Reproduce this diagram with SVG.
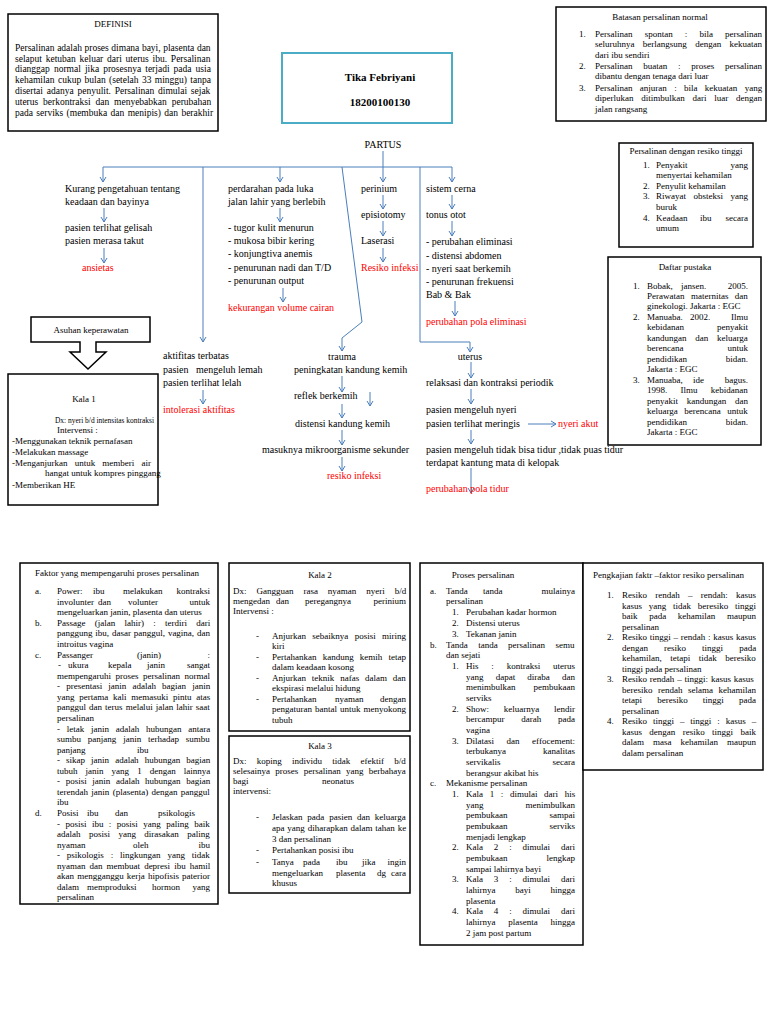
<svg xmlns="http://www.w3.org/2000/svg" width="768" height="1024" viewBox="0 0 768 1024">
<style>
text{font-family:"Liberation Serif","Times New Roman",serif;font-size:10px;fill:#000}
.s{font-size:9px}
.d{font-size:9.5px}
.r{fill:#ff0000}
.c{text-anchor:middle}
.e{text-anchor:end}
.b{font-weight:bold;font-size:11px}
.box{fill:#fff;stroke:#000;stroke-width:1.5}
.conn{stroke:#4a7ebb;stroke-width:1;fill:none}
.arr{stroke:#4a7ebb;stroke-width:1;fill:none;marker-end:url(#ah)}
</style>
<defs>
<marker id="ah" markerWidth="8" markerHeight="8" refX="6" refY="4" orient="auto" markerUnits="userSpaceOnUse">
<path d="M1,1 L6,4 L1,7" fill="none" stroke="#4a7ebb" stroke-width="1"/>
</marker>
<clipPath id="defclip"><rect x="8" y="14" width="210" height="117"/></clipPath>
</defs>
<rect width="768" height="1024" fill="#fff"/>

<g id="connectors">
<line class="arr" x1="383" y1="151" x2="383" y2="182"/>
<line class="conn" x1="103" y1="167" x2="452" y2="167"/>
<line class="arr" x1="103" y1="167" x2="103" y2="182"/>
<line class="arr" x1="280" y1="167" x2="280" y2="182"/>
<line class="arr" x1="452" y1="167" x2="452" y2="182"/>
<line class="arr" x1="203" y1="167" x2="203" y2="342"/>
<polyline class="arr" points="342,167 362,322 342,338 342,351"/>
<polyline class="arr" points="420,167 420,342 470,342 470,352"/>
<line class="arr" x1="104" y1="208" x2="104" y2="222"/>
<line class="arr" x1="104" y1="248" x2="104" y2="263"/>
<line class="arr" x1="280" y1="208" x2="280" y2="222"/>
<line class="arr" x1="283" y1="288" x2="283" y2="302"/>
<line class="arr" x1="383" y1="195" x2="383" y2="209"/>
<line class="arr" x1="383" y1="221" x2="383" y2="236"/>
<line class="arr" x1="383" y1="248" x2="383" y2="262"/>
<line class="arr" x1="452" y1="195" x2="452" y2="209"/>
<line class="arr" x1="452" y1="221" x2="452" y2="236"/>
<line class="arr" x1="455" y1="301" x2="455" y2="316"/>
<line class="arr" x1="203" y1="390" x2="203" y2="404"/>
<line class="arr" x1="342" y1="376" x2="342" y2="392"/>
<line class="arr" x1="370" y1="392" x2="370" y2="406"/>
<line class="arr" x1="342" y1="404" x2="342" y2="418"/>
<line class="arr" x1="342" y1="430" x2="342" y2="445"/>
<line class="arr" x1="342" y1="457" x2="342" y2="471"/>
<line class="arr" x1="471" y1="362" x2="471" y2="378"/>
<line class="arr" x1="471" y1="389" x2="471" y2="404"/>
<line class="arr" x1="528" y1="424" x2="556" y2="424"/>
<line class="arr" x1="471" y1="430" x2="471" y2="444"/>
<line class="arr" x1="471" y1="468" x2="471" y2="493"/>
</g>

<g id="definisi">
<rect class="box" x="8" y="14" width="210" height="117" stroke-width="2"/>
<text class="s c" x="113" y="27">DEFINISI</text>
<g clip-path="url(#defclip)">
<text class="d" x="15" y="51" style="word-spacing:0.2px">Persalinan adalah proses dimana bayi, plasenta dan</text>
<text class="d" x="15" y="62" style="word-spacing:1.4px">selaput ketuban keluar dari uterus ibu. Persalinan</text>
<text class="d" x="15" y="72" style="word-spacing:1.7px">dianggap normal jika prosesnya terjadi pada usia</text>
<text class="d" x="15" y="83" style="word-spacing:1px">kehamilan cukup bulan (setelah 33 minggu) tanpa</text>
<text class="d" x="15" y="94" style="word-spacing:1.4px">disertai adanya penyulit. Persalinan dimulai sejak</text>
<text class="d" x="15" y="105" style="word-spacing:2.5px">uterus berkontraksi dan menyebabkan perubahan</text>
<text class="d" x="15" y="116" style="word-spacing:1px">pada serviks (membuka dan menipis) dan berakhir</text>
</g>
</g>

<g id="nama">
<rect x="282" y="53" width="170" height="70" fill="#fff" stroke="#4bacc6" stroke-width="2"/>
<text class="b c" x="380" y="81">Tika Febriyani</text>
<text class="b c" x="380" y="106">18200100130</text>
</g>

<g id="batasan">
<rect class="box" x="556" y="7" width="210" height="114"/>
<text class="s c" x="660" y="20">Batasan persalinan normal</text>
<text class="s" x="579" y="37">1.</text>
<text class="s" x="595" y="37" style="word-spacing:9.9px">Persalinan spontan : bila persalinan</text>
<text class="s" x="595" y="47" style="word-spacing:6.1px">seluruhnya berlangsung dengan kekuatan</text>
<text class="s" x="595" y="58">dari ibu sendiri</text>
<text class="s" x="579" y="69">2.</text>
<text class="s" x="595" y="69" style="word-spacing:8.5px">Persalinan buatan : proses persalinan</text>
<text class="s" x="595" y="79">dibantu dengan tenaga dari luar</text>
<text class="s" x="579" y="91">3.</text>
<text class="s" x="595" y="91" style="word-spacing:5.1px">Persalinan anjuran : bila kekuatan yang</text>
<text class="s" x="595" y="101" style="word-spacing:5.5px">diperlukan ditimbulkan dari luar dengan</text>
<text class="s" x="595" y="112">jalan rangsang</text>
</g>

<g id="partus"><text class="c" x="383" y="148">PARTUS</text></g>

<g id="col1">
<text x="65" y="192">Kurang pengetahuan tentang</text>
<text x="65" y="205">keadaan dan bayinya</text>
<text x="65" y="231">pasien terlihat gelisah</text>
<text x="65" y="244">pasien merasa takut</text>
<text class="r" x="82" y="271">ansietas</text>
</g>
<g id="col2">
<text x="228" y="192">perdarahan pada luka</text>
<text x="228" y="205">jalan lahir yang berlebih</text>
<text x="228" y="231">- tugor kulit menurun</text>
<text x="228" y="244">- mukosa bibir kering</text>
<text x="228" y="257">- konjungtiva anemis</text>
<text x="228" y="271">- penurunan nadi dan  T/D</text>
<text x="228" y="284">- penurunan output</text>
<text class="r" x="228" y="311">kekurangan volume cairan</text>
</g>
<g id="col3">
<text x="361" y="192">perinium</text>
<text x="361" y="218">episiotomy</text>
<text x="361" y="244">Laserasi</text>
<text class="r" x="361" y="271">Resiko infeksi</text>
</g>
<g id="col4">
<text x="426" y="192">sistem cerna</text>
<text x="426" y="218">tonus otot</text>
<text x="426" y="245">- perubahan eliminasi</text>
<text x="426" y="259">- distensi abdomen</text>
<text x="426" y="272">- nyeri saat berkemih</text>
<text x="426" y="285">- penurunan frekuensi</text>
<text x="426" y="298">Bab &amp; Bak</text>
<text class="r" x="426" y="325">perubahan pola eliminasi</text>
</g>
<g id="col5">
<text x="163" y="359">aktifitas terbatas</text>
<text x="163" y="373" xml:space="preserve">pasien   mengeluh lemah</text>
<text x="163" y="386">pasien terlihat lelah</text>
<text class="r" x="163" y="413">intolerasi aktifitas</text>
</g>
<g id="col6">
<text class="c" x="342" y="360">trauma</text>
<text x="294" y="373">peningkatan kandung kemih</text>
<text x="294" y="399">reflek berkemih</text>
<text x="295" y="427">distensi kandung kemih</text>
<text x="262" y="453">masuknya mikroorganisme  sekunder</text>
<text class="r" x="327" y="479">resiko infeksi</text>
</g>
<g id="col7">
<text class="c" x="470" y="360">uterus</text>
<text x="426" y="386">relaksasi dan kontraksi periodik</text>
<text x="426" y="413">pasien mengeluh nyeri</text>
<text x="426" y="427">pasien terlihat meringis</text>
<text class="r" x="558" y="427">nyeri akut</text>
<text x="426" y="453">pasien mengeluh tidak bisa tidur ,tidak puas tidur</text>
<text x="426" y="466">terdapat kantung mata di kelopak</text>
<text class="r" x="426" y="492">perubahan pola tidur</text>
</g>

<g id="resiko-tinggi">
<rect class="box" x="619" y="143" width="134" height="104"/>
<text class="s c" x="686" y="154">Persalinan dengan resiko tinggi</text>
<text class="s" x="643" y="168">1.</text>
<text class="s" x="656" y="168">Penyakit</text><text class="s e" x="748" y="168">yang</text>
<text class="s" x="656" y="178">menyertai kehamilan</text>
<text class="s" x="643" y="189">2.</text>
<text class="s" x="656" y="189">Penyulit kehamilan</text>
<text class="s" x="643" y="199">3.</text>
<text class="s" x="656" y="199" style="word-spacing:5.2px">Riwayat obsteksi yang</text>
<text class="s" x="656" y="210">buruk</text>
<text class="s" x="643" y="221">4.</text>
<text class="s" x="656" y="221">Keadaan</text><text class="s" x="700" y="221">ibu</text><text class="s e" x="748" y="221">secara</text>
<text class="s" x="656" y="231">umum</text>
</g>

<g id="daftar-pustaka">
<rect class="box" x="608" y="257" width="153" height="188"/>
<text class="s c" x="685" y="270">Daftar pustaka</text>
<text class="s" x="633" y="289">1.</text>
<text class="s" x="647" y="289">Bobak,</text><text class="s" x="681" y="289">jansen.</text><text class="s e" x="748" y="289">2005.</text>
<text class="s" x="647" y="299" style="word-spacing:4.2px">Perawatan maternitas dan</text>
<text class="s" x="647" y="309">ginekologi. Jakarta : EGC</text>
<text class="s" x="633" y="320">2.</text>
<text class="s" x="647" y="320">Manuaba.</text><text class="s" x="690" y="320">2002.</text><text class="s e" x="748" y="320">Ilmu</text>
<text class="s" x="647" y="330">kebidanan</text><text class="s e" x="748" y="330">penyakit</text>
<text class="s" x="647" y="341" style="word-spacing:6.5px">kandungan dan keluarga</text>
<text class="s" x="647" y="351">berencana</text><text class="s e" x="748" y="351">untuk</text>
<text class="s" x="647" y="362">pendidikan</text><text class="s e" x="748" y="362">bidan.</text>
<text class="s" x="647" y="372">Jakarta : EGC</text>
<text class="s" x="633" y="383">3.</text>
<text class="s" x="647" y="383">Manuaba,</text><text class="s" x="693" y="383">ide</text><text class="s e" x="748" y="383">bagus.</text>
<text class="s" x="647" y="393" style="word-spacing:11px">1998. Ilmu kebidanan</text>
<text class="s" x="647" y="404" style="word-spacing:6.5px">penyakit kandungan dan</text>
<text class="s" x="647" y="414" style="word-spacing:4.2px">keluarga berencana untuk</text>
<text class="s" x="647" y="425">pendidikan</text><text class="s e" x="748" y="425">bidan.</text>
<text class="s" x="647" y="435">Jakarta : EGC</text>
</g>

<g id="asuhan">
<polygon points="31,317 150,317 150,342 96,342 96,352 106,352 88,369 70,352 80,352 80,342 31,342" fill="#fff" stroke="#000" stroke-width="1.5"/>
<text class="s c" x="91" y="333">Asuhan keperawatan</text>
</g>

<g id="kala1">
<rect class="box" x="8" y="374" width="150" height="131"/>
<text class="s c" x="84" y="402">Kala 1</text>
<text class="s" x="55" y="423" textLength="99" lengthAdjust="spacingAndGlyphs">Dx: nyeri b/d intensitas kontraksi</text>
<text class="s" x="57" y="433">Intervensi :</text>
<text class="s" x="12" y="444">-Menggunakan teknik pernafasan</text>
<text class="s" x="12" y="455">-Melakukan massage</text>
<text class="s" x="12" y="466" style="word-spacing:4.9px">-Menganjurkan untuk memberi air</text>
<text class="s" x="45" y="476">hangat untuk kompres pinggang</text>
<text class="s" x="12" y="488">-Memberikan HE</text>
</g>

<g id="faktor">
<rect class="box" x="20" y="563" width="198" height="341"/>
<text class="s c" x="117" y="576">Faktor yang mempengaruhi proses persalinan</text>
<text class="s" x="35" y="594">a.</text>
<text class="s" x="57" y="594">Power:</text><text class="s" x="93" y="594">ibu</text><text class="s" x="123" y="594">melakukan</text><text class="s e" x="210" y="594">kontraksi</text>
<text class="s" x="57" y="605">involunter</text><text class="s" x="98" y="605">dan</text><text class="s" x="128" y="605">volunter</text><text class="s e" x="210" y="605">untuk</text>
<text class="s" x="57" y="615">mengeluarkan janin, plasenta dan uterus</text>
<text class="s" x="35" y="626">b.</text>
<text class="s" x="57" y="626" style="word-spacing:7px">Passage (jalan lahir) : terdiri dari</text>
<text class="s" x="57" y="636" style="word-spacing:0.6px">panggung ibu, dasar panggul, vagina, dan</text>
<text class="s" x="57" y="647">introitus vagina</text>
<text class="s" x="35" y="658">c.</text>
<text class="s" x="57" y="658">Passanger</text><text class="s" x="137" y="658">(janin)</text><text class="s e" x="210" y="658">:</text>
<text class="s" x="58" y="668">-</text><text class="s" x="68" y="668">ukura</text><text class="s" x="108" y="668">kepala</text><text class="s" x="147" y="668">janin</text><text class="s e" x="210" y="668">sangat</text>
<text class="s" x="57" y="679" style="word-spacing:2.3px">mempengaruhi proses persalinan normal</text>
<text class="s" x="57" y="689" style="word-spacing:3.9px">- presentasi janin adalah bagian janin</text>
<text class="s" x="57" y="700" style="word-spacing:2.5px">yang pertama kali memasuki pintu atas</text>
<text class="s" x="57" y="710" style="word-spacing:0.8px">panggul dan terus melalui jalan lahir saat</text>
<text class="s" x="57" y="721">persalinan</text>
<text class="s" x="57" y="732" style="word-spacing:4.5px">- letak janin adalah hubungan antara</text>
<text class="s" x="57" y="742" style="word-spacing:4.6px">sumbu panjang janin terhadap sumbu</text>
<text class="s" x="57" y="753">panjang</text><text class="s" x="137" y="753">ibu</text>
<text class="s" x="57" y="763" style="word-spacing:3.8px">- sikap janin adalah hubungan bagian</text>
<text class="s" x="57" y="774" style="word-spacing:5.8px">tubuh janin yang 1 dengan lainnya</text>
<text class="s" x="57" y="784" style="word-spacing:3.4px">- posisi janin adalah hubungan bagian</text>
<text class="s" x="57" y="795" style="word-spacing:1.1px">terendah janin (plasenta) dengan panggul</text>
<text class="s" x="57" y="805">ibu</text>
<text class="s" x="35" y="816">d.</text>
<text class="s" x="57" y="816">Posisi</text><text class="s" x="87" y="816">ibu</text><text class="s" x="115" y="816">dan</text><text class="s" x="158" y="816">psikologis</text>
<text class="s" x="57" y="827" style="word-spacing:3.2px">- posisi ibu : posisi yang paling baik</text>
<text class="s" x="57" y="837" style="word-spacing:6.2px">adalah posisi yang dirasakan paling</text>
<text class="s" x="57" y="848">nyaman</text><text class="s" x="133" y="848">oleh</text><text class="s e" x="210" y="848">ibu</text>
<text class="s" x="57" y="858" style="word-spacing:4.6px">- psikologis : lingkungan yang tidak</text>
<text class="s" x="57" y="869" style="word-spacing:1.8px">nyaman dan membuat depresi ibu hamil</text>
<text class="s" x="57" y="879" style="word-spacing:0.9px">akan mengganggu kerja hipofisis paterior</text>
<text class="s" x="57" y="890">dalam</text><text class="s" x="87" y="890">memproduksi</text><text class="s" x="152" y="890">hormon</text><text class="s e" x="210" y="890">yang</text>
<text class="s" x="57" y="900">persalinan</text>
</g>

<g id="kala2">
<rect class="box" x="229" y="563" width="181" height="168"/>
<text class="s c" x="320" y="578">Kala 2</text>
<text class="s" x="233" y="594" style="word-spacing:7.7px">Dx: Gangguan rasa nyaman nyeri b/d</text>
<text class="s" x="233" y="604">mengedan</text><text class="s" x="276" y="604">dan</text><text class="s" x="305" y="604">peregangnya</text><text class="s e" x="406" y="604">perinium</text>
<text class="s" x="233" y="614">Intervensi :</text>
<text class="s" x="256" y="639">-</text>
<text class="s" x="272" y="639" style="word-spacing:4.1px">Anjurkan sebaiknya posisi miring</text>
<text class="s" x="272" y="649">kiri</text>
<text class="s" x="256" y="660">-</text>
<text class="s" x="272" y="660" style="word-spacing:3.9px">Pertahankan kandung kemih tetap</text>
<text class="s" x="272" y="670">dalam keadaan kosong</text>
<text class="s" x="256" y="681">-</text>
<text class="s" x="272" y="681" style="word-spacing:3.6px">Anjurkan teknik nafas dalam dan</text>
<text class="s" x="272" y="691">ekspirasi melalui hidung</text>
<text class="s" x="256" y="702">-</text>
<text class="s" x="272" y="702">Pertahankan</text><text class="s" x="335" y="702">nyaman</text><text class="s e" x="406" y="702">dengan</text>
<text class="s" x="272" y="712" style="word-spacing:0.8px">pengaturan bantal untuk menyokong</text>
<text class="s" x="272" y="723">tubuh</text>
</g>

<g id="kala3">
<rect class="box" x="229" y="736" width="181" height="157"/>
<text class="s c" x="320" y="749">Kala 3</text>
<text class="s" x="233" y="764" style="word-spacing:8px">Dx: koping individu tidak efektif b/d</text>
<text class="s" x="233" y="774" style="word-spacing:3.1px">selesainya proses persalinan yang berbahaya</text>
<text class="s" x="233" y="784">bagi</text><text class="s" x="322" y="784">neonatus</text>
<text class="s" x="233" y="794">intervensi:</text>
<text class="s" x="256" y="820">-</text>
<text class="s" x="272" y="820" style="word-spacing:2.6px">Jelaskan pada pasien dan keluarga</text>
<text class="s" x="272" y="831" style="word-spacing:0.6px">apa yang diharapkan dalam tahan ke</text>
<text class="s" x="272" y="842">3 dan persalinan</text>
<text class="s" x="256" y="853">-</text>
<text class="s" x="272" y="853">Pertahankan posisi ibu</text>
<text class="s" x="256" y="865">-</text>
<text class="s" x="272" y="865">Tanya</text><text class="s" x="303" y="865">pada</text><text class="s" x="336" y="865">ibu</text><text class="s" x="362" y="865">jika</text><text class="s e" x="406" y="865">ingin</text>
<text class="s" x="272" y="876">mengeluarkan</text><text class="s" x="336" y="876">plasenta</text><text class="s" x="377" y="876">dg</text><text class="s e" x="406" y="876">cara</text>
<text class="s" x="272" y="886">khusus</text>
</g>

<g id="proses">
<rect class="box" x="420" y="563" width="163" height="382"/>
<text class="s c" x="483" y="578">Proses persalinan</text>
<text class="s" x="430" y="594">a.</text>
<text class="s" x="446" y="594">Tanda</text><text class="s" x="483" y="594">tanda</text><text class="s e" x="575" y="594">mulainya</text>
<text class="s" x="446" y="604">persalinan</text>
<text class="s" x="452" y="615">1.</text><text class="s" x="466" y="615">Perubahan kadar hormon</text>
<text class="s" x="452" y="626">2.</text><text class="s" x="466" y="626">Distensi uterus</text>
<text class="s" x="452" y="637">3.</text><text class="s" x="466" y="637">Tekanan janin</text>
<text class="s" x="430" y="648">b.</text>
<text class="s" x="446" y="648" style="word-spacing:8.1px">Tanda tanda persalinan semu</text>
<text class="s" x="446" y="658">dan sejati</text>
<text class="s" x="452" y="669">1.</text>
<text class="s" x="466" y="669" style="word-spacing:10.6px">His : kontraksi uterus</text>
<text class="s" x="466" y="680" style="word-spacing:9.9px">yang dapat diraba dan</text>
<text class="s" x="466" y="690">menimbulkan</text><text class="s e" x="575" y="690">pembukaan</text>
<text class="s" x="466" y="701">serviks</text>
<text class="s" x="452" y="712">2.</text>
<text class="s" x="466" y="712" style="word-spacing:12.5px">Show: keluarnya lendir</text>
<text class="s" x="466" y="722" style="word-spacing:14.5px">bercampur darah pada</text>
<text class="s" x="466" y="733">vagina</text>
<text class="s" x="452" y="744">3.</text>
<text class="s" x="466" y="744" style="word-spacing:10.3px">Dilatasi dan effocement:</text>
<text class="s" x="466" y="754">terbukanya</text><text class="s e" x="575" y="754">kanalitas</text>
<text class="s" x="466" y="765">servikalis</text><text class="s e" x="575" y="765">secara</text>
<text class="s" x="466" y="776">berangsur akibat his</text>
<text class="s" x="430" y="786">c.</text>
<text class="s" x="446" y="786">Mekanisme persalinan</text>
<text class="s" x="452" y="797">1.</text>
<text class="s" x="466" y="797" style="word-spacing:4.4px">Kala 1 : dimulai dari his</text>
<text class="s" x="466" y="808">yang</text><text class="s e" x="575" y="808">menimbulkan</text>
<text class="s" x="466" y="818">pembukaan</text><text class="s e" x="575" y="818">sampai</text>
<text class="s" x="466" y="829">pembukaan</text><text class="s e" x="575" y="829">serviks</text>
<text class="s" x="466" y="840">menjadi lengkap</text>
<text class="s" x="452" y="850">2.</text>
<text class="s" x="466" y="850" style="word-spacing:8.6px">Kala 2 : dimulai dari</text>
<text class="s" x="466" y="861">pembukaan</text><text class="s e" x="575" y="861">lengkap</text>
<text class="s" x="466" y="872">sampai lahirnya bayi</text>
<text class="s" x="452" y="882">3.</text>
<text class="s" x="466" y="882" style="word-spacing:8.6px">Kala 3 : dimulai dari</text>
<text class="s" x="466" y="893" style="word-spacing:17.5px">lahirnya bayi hingga</text>
<text class="s" x="466" y="904">plasenta</text>
<text class="s" x="452" y="914">4.</text>
<text class="s" x="466" y="914" style="word-spacing:8.6px">Kala 4 : dimulai dari</text>
<text class="s" x="466" y="925" style="word-spacing:10.5px">lahirnya plasenta hingga</text>
<text class="s" x="466" y="936">2 jam post partum</text>
</g>

<g id="pengkajian">
<rect class="box" x="583" y="563" width="180" height="207"/>
<text class="s" x="593" y="578">Pengkajian faktr –faktor resiko persalinan</text>
<text class="s" x="607" y="598">1.</text>
<text class="s" x="622" y="598" style="word-spacing:6px">Resiko rendah – rendah: kasus</text>
<text class="s" x="622" y="609" style="word-spacing:4.5px">kasus yang tidak beresiko tinggi</text>
<text class="s" x="622" y="619" style="word-spacing:9.4px">baik pada kehamilan maupun</text>
<text class="s" x="622" y="630">persalinan</text>
<text class="s" x="607" y="640">2.</text>
<text class="s" x="622" y="640" style="word-spacing:0.5px">Resiko tinggi – rendah : kasus kasus</text>
<text class="s" x="622" y="651" style="word-spacing:13.8px">dengan resiko tinggi pada</text>
<text class="s" x="622" y="661" style="word-spacing:6.3px">kehamilan, tetapi tidak beresiko</text>
<text class="s" x="622" y="672">tinggi pada persalinan</text>
<text class="s" x="607" y="682">3.</text>
<text class="s" x="622" y="682" style="word-spacing:0.6px">Resiko rendah – tinggi: kasus kasus</text>
<text class="s" x="622" y="693" style="word-spacing:3.3px">beresiko rendah selama kehamilan</text>
<text class="s" x="622" y="703" style="word-spacing:12.9px">tetapi beresiko tinggi pada</text>
<text class="s" x="622" y="714">persalinan</text>
<text class="s" x="607" y="724">4.</text>
<text class="s" x="622" y="724" style="word-spacing:3.7px">Resiko tinggi – tinggi : kasus –</text>
<text class="s" x="622" y="735" style="word-spacing:5.1px">kasus dengan resiko tinggi baik</text>
<text class="s" x="622" y="745" style="word-spacing:6.8px">dalam masa kehamilan maupun</text>
<text class="s" x="622" y="756">dalam persalinan</text>
</g>
</svg>
